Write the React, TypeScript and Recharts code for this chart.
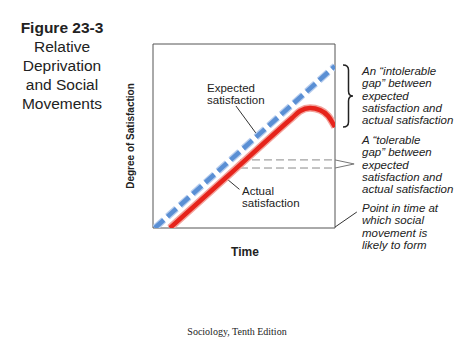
import React from "react";
import {
  ComposedChart,
  Line,
  XAxis,
  YAxis,
  ReferenceArea,
  ReferenceLine,
} from "recharts";

// time (0-100) vs degree of satisfaction (0-100)
const expectedTime = [1, 100];
const expectedLevel = [0, 88];
const actualTime = [9.3, 40, 76.4, 80.8, 86.3, 91.8, 96.2, 100];
const actualLevel = [0, 27.3, 59.8, 63.6, 65.2, 64.1, 60.9, 54.9];

// "tolerable gap" guide levels
const tolerableLevels = [37, 32.6];
const tolerableStart = 47.8;

const titleLines = ["Relative", "Deprivation", "and Social", "Movements"];
const intolerableText = [
  "An \u201cintolerable",
  "gap\u201d between",
  "expected",
  "satisfaction and",
  "actual satisfaction",
];
const tolerableText = [
  "A \u201ctolerable",
  "gap\u201d between",
  "expected",
  "satisfaction and",
  "actual satisfaction",
];
const pointText = ["Point in time at", "which social", "movement is", "likely to form"];

const expected = expectedTime.map((t, i) => ({ t, v: expectedLevel[i] }));
const actual = actualTime.map((t, i) => ({ t, v: actualLevel[i] }));

const SANS = '"Liberation Sans", Arial, Helvetica, sans-serif';
const INK = "#222";
const NOTE = 11.5; // annotation font size
const LEAD = 12.3; // annotation line spacing

export default function App() {
  return (
    <div style={{ position: "absolute", left: 0, top: 0, width: 474, height: 355, background: "#fff" }}>
      <ComposedChart
        width={474}
        height={355}
        margin={{ top: 44, left: 153, right: 139, bottom: 127 }}
      >
        <XAxis dataKey="t" type="number" domain={[0, 100]} hide allowDataOverflow />
        <YAxis type="number" domain={[0, 100]} hide allowDataOverflow />
        <ReferenceArea x1={0} x2={100} y1={0} y2={100} fill="#fff" fillOpacity={0} stroke="#555" strokeWidth={1} />
        {tolerableLevels.map((y) => (
          <ReferenceLine
            key={y}
            segment={[{ x: tolerableStart, y }, { x: 100, y }]}
            stroke="#8a8a8a"
            strokeDasharray="8 4"
            strokeWidth={1}
          />
        ))}
        {tolerableLevels.map((y) => (
          <ReferenceLine
            key={"c" + y}
            segment={[{ x: 100, y }, { x: 110.5, y: 34.8 }]}
            stroke="#777"
            strokeWidth={1}
            ifOverflow="visible"
          />
        ))}
        <ReferenceLine segment={[{ x: 45.6, y: 66.3 }, { x: 57.7, y: 50 }]} stroke="#333" strokeWidth={1} ifOverflow="visible" />
        <ReferenceLine segment={[{ x: 39.6, y: 27.5 }, { x: 47.5, y: 21 }]} stroke="#333" strokeWidth={1} ifOverflow="visible" />
        <ReferenceLine segment={[{ x: 100, y: 0.5 }, { x: 112, y: 8.7 }]} stroke="#333" strokeWidth={1} ifOverflow="visible" />
        <Line data={actual} dataKey="v" type="monotone" stroke="#f3a39c" strokeWidth={7.5} dot={false} activeDot={false} isAnimationActive={false} />
        <Line data={actual} dataKey="v" type="monotone" stroke="#e6231b" strokeWidth={4.5} dot={false} activeDot={false} isAnimationActive={false} />
        <Line data={expected} dataKey="v" type="linear" stroke="#b7cdee" strokeWidth={7} strokeDasharray="12 5" dot={false} activeDot={false} isAnimationActive={false} />
        <Line data={expected} dataKey="v" type="linear" stroke="#5a8fd4" strokeWidth={4.5} strokeDasharray="12 5" dot={false} activeDot={false} isAnimationActive={false} />
      </ComposedChart>

      <svg width={474} height={355} style={{ position: "absolute", left: 0, top: 0, pointerEvents: "none" }}>
        <g fontFamily={SANS} fill={INK}>
          <text x={62} y={33} fontSize={15.5} fontWeight="bold" textAnchor="middle">Figure 23-3</text>
          {titleLines.map((s, i) => (
            <text key={s} x={62} y={52 + i * 18.9} fontSize={15.5} textAnchor="middle">{s}</text>
          ))}

          <text x={130} y={136} fontSize={10} fontWeight="bold" textAnchor="middle" dominantBaseline="central" transform="rotate(-90 130 136)">
            Degree of Satisfaction
          </text>
          <text x={245} y={256} fontSize={12} fontWeight="bold" textAnchor="middle">Time</text>

          <text x={207} y={92} fontSize={NOTE}>Expected</text>
          <text x={207} y={92 + LEAD} fontSize={NOTE}>satisfaction</text>
          <text x={242} y={195} fontSize={NOTE}>Actual</text>
          <text x={242} y={195 + LEAD} fontSize={NOTE}>satisfaction</text>

          {intolerableText.map((s, i) => (
            <text key={"a" + i} x={362} y={75 + i * LEAD} fontSize={NOTE} fontStyle="italic">{s}</text>
          ))}
          {tolerableText.map((s, i) => (
            <text key={"b" + i} x={362} y={144 + i * LEAD} fontSize={NOTE} fontStyle="italic">{s}</text>
          ))}
          {pointText.map((s, i) => (
            <text key={"c" + i} x={362} y={212 + i * LEAD} fontSize={NOTE} fontStyle="italic">{s}</text>
          ))}
        </g>
        <path
          d="M343,65 Q348.5,65 348.5,70 L348.5,91 Q348.5,96 353,96 Q348.5,96 348.5,101 L348.5,122 Q348.5,127 343,127"
          fill="none"
          stroke={INK}
          strokeWidth={1.5}
        />
        <text x={237} y={335} fontSize={10} textAnchor="middle" fontFamily='"Liberation Serif", "Times New Roman", serif' fill="#222">
          Sociology, Tenth Edition
        </text>
      </svg>
    </div>
  );
}
